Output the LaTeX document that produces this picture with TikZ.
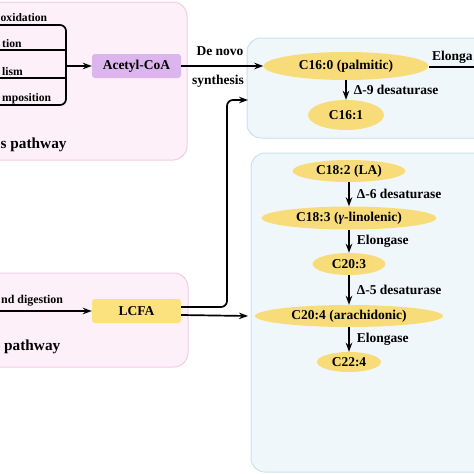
\documentclass[tikz,border=0pt]{standalone}
\usepackage{fontspec}
\setmainfont{Liberation Serif}
\usetikzlibrary{arrows.meta, shapes.geometric, calc, positioning}
\definecolor{pinkFill}{HTML}{FDF0F8}
\definecolor{pinkLine}{HTML}{F2CDE3}
\definecolor{blueFill}{HTML}{EFF7FB}
\definecolor{blueLine}{HTML}{C9E3EF}
\definecolor{acylFill}{HTML}{DCB4EE}
\definecolor{lcfaFill}{HTML}{FBE27E}
\definecolor{acidFill}{HTML}{F9DC7A}
\tikzset{
    pinkPanel/.style={draw=pinkLine, fill=pinkFill, line width=1pt, rounded corners=14pt},
    bluePanel/.style={draw=blueLine, fill=blueFill, line width=1pt, rounded corners=14pt},
    metaBox/.style={rectangle, rounded corners=3pt, minimum width=89pt, minimum height=24pt, inner sep=0pt, font=\fontsize{13.5}{15}\selectfont\bfseries},
    acidNode/.style={ellipse, fill=acidFill, inner sep=0pt, font=\fontsize{13.5}{15}\selectfont\bfseries},
    inLabel/.style={anchor=base west, inner sep=0pt, font=\fontsize{11.6}{13}\selectfont\bfseries},
    pathLabel/.style={anchor=base west, inner sep=0pt, font=\fontsize{15.3}{17}\selectfont\bfseries},
    stepLabel/.style={inner sep=0pt, font=\fontsize{13.5}{15}\selectfont\bfseries},
    flowEdge/.style={-{Stealth[length=9pt, width=6.5pt]}, line width=1.7pt},
    flowLine/.style={line width=1.7pt},
}
\newcommand{\drawEnzyme}[3]{
    \draw[flowEdge] (#1) -- node[stepLabel, right=7pt] {#3} (#2);
}

\begin{document}
\begin{tikzpicture}[x=1pt, y=-1pt]
        \useasboundingbox (0,0) rectangle (474,474);
        \clip (0,0) rectangle (474,474);

        % panels
        \draw[pinkPanel] (-30,2) rectangle (187,160);
        \draw[pinkPanel] (-30,273) rectangle (188,367);
        \draw[bluePanel] (247,38) rectangle (500,138);
        \draw[bluePanel] (251,153) rectangle (500,472);

        % inputs of the first pathway
        \node[inLabel] (oxi) at (0.5,21) {oxidation};
        \node[inLabel] (tio) at (2,47) {tion};
        \node[inLabel] (lis) at (2,75) {lism};
        \node[inLabel] (mpo) at (2,101) {mposition};
        \node[pathLabel] (endo) at (0.5,148) {s pathway};

        \node[metaBox, fill=acylFill] (acetyl) at (136.5,66) {Acetyl-CoA};

        \coordinate (bra) at (66,66);
        \draw[flowLine, rounded corners=6pt] (-10,25) -- (66,25) -- (66,105) -- (-10,105);
        \draw[flowLine] (-10,50) -- (66,50);
        \draw[flowLine] (-10,78) -- (66,78);
        \draw[flowEdge] (bra) -- (acetyl.west);

        % inputs of the second pathway
        \node[inLabel, font=\fontsize{11.9}{13}\selectfont\bfseries] (dig) at (1,303) {nd digestion};
        \node[pathLabel] (exo) at (4,350) {pathway};
        \node[metaBox, fill=lcfaFill] (lcfa) at (136.5,311) {LCFA};
        \coordinate (food) at (-10,311);
        \draw[flowEdge] (food) -- (lcfa.west);

        % de novo synthesis
        \node[acidNode, minimum width=165pt, minimum height=28pt] (c160) at (346,66) {C16:0 (palmitic)};
        \node[acidNode, minimum width=76pt, minimum height=30pt] (c161) at (346,115) {C16:1};
        \draw[flowEdge] (acetyl.east) -- (c160.west);
        \node[stepLabel] (denovo) at (220,51) {De novo};
        \node[stepLabel] (synth) at (218,81) {synthesis};
        \drawEnzyme{c160.south}{c161.north}{Δ-9 desaturase}

        \coordinate (elo) at (490,67);
        \draw[flowLine] (c160.east |- elo) -- (elo);
        \node[stepLabel, anchor=base west] (elolab) at (432,60) {Elonga};

        % polyunsaturated chain
        \node[acidNode, minimum width=113pt, minimum height=22pt] (c182) at (349,171) {C18:2 (LA)};
        \node[acidNode, minimum width=175pt, minimum height=23pt] (c183) at (349,218) {C18:3 (\textit{γ}-linolenic)};
        \node[acidNode, minimum width=73pt, minimum height=22pt] (c203) at (349,264) {C20:3};
        \node[acidNode, minimum width=188pt, minimum height=22pt] (c204) at (349,316) {C20:4 (arachidonic)};
        \node[acidNode, minimum width=64pt, minimum height=20pt] (c224) at (349,362) {C22:4};

        \drawEnzyme{c182.south}{c183.north}{Δ-6 desaturase}
        \drawEnzyme{c183.south}{c203.north}{Elongase}
        \drawEnzyme{c203.south}{c204.north}{Δ-5 desaturase}
        \drawEnzyme{c204.south}{c224.north}{Elongase}

        % LCFA to both panels
        \coordinate (upIn) at (248,100);
        \coordinate (lowIn) at (248,316);
        \draw[flowEdge, rounded corners=6pt] ($(lcfa.east)+(0,-4)$) -- (227,307) -- (227,100) -- (upIn);
        \draw[flowEdge] ($(lcfa.east)+(0,4)$) -- (lowIn);

    \end{tikzpicture}
\end{document}
